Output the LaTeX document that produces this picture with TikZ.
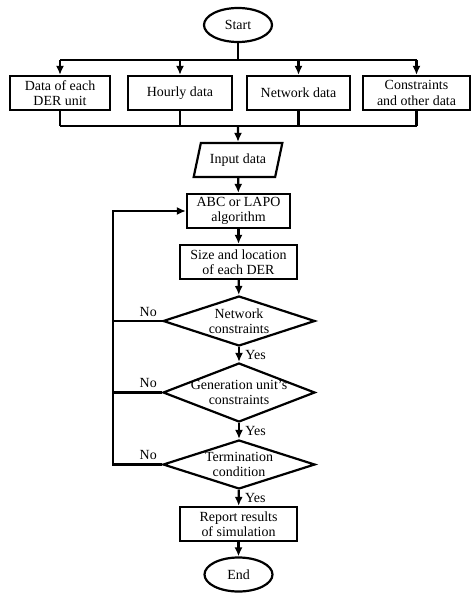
\documentclass[tikz,border=0pt]{standalone}
\usepackage{fontspec}
\setmainfont{Liberation Serif}
\usetikzlibrary{shapes.geometric,arrows.meta}

\tikzset{
  every node/.style={font=\fontsize{14}{15.5}\selectfont, align=center},
  box/.style={draw, line width=2.2bp, rectangle, minimum height=34bp, inner sep=1bp},
  term/.style={draw, line width=2.2bp, ellipse, minimum width=68bp, minimum height=34bp, inner sep=0pt},
  decision/.style={draw, line width=2.2bp, diamond, minimum width=152bp, inner sep=0pt},
  io/.style={draw, line width=2.2bp, trapezium, trapezium left angle=69, trapezium right angle=111,
    trapezium stretches=true, minimum width=89bp, minimum height=34bp, inner sep=1bp},
  line/.style={line width=2.2bp},
  arrow/.style={line width=2.2bp, -{Latex[length=9bp,width=8bp]}},
}

\begin{document}
\begin{tikzpicture}[x=1bp, y=-1bp]
    \useasboundingbox (0,0) rectangle (474,596);
    \node[term] (start) at (238,25) {Start};
    \node[box, minimum width=100bp] (der) at (60,93) {Data of each\\DER unit};
    \node[box, minimum width=104bp] (hourly) at (180,93) {Hourly data};
    \node[box, minimum width=103bp] (network) at (298.5,93) {Network data};
    \node[box, minimum width=107bp] (other) at (416.5,93) {Constraints\\and other data};
    \coordinate (split) at (238,60);
    \coordinate (merge) at (238,126);
    \node[io] (input) at (238,160) {Input data};
    \node[box, minimum width=103bp] (algo) at (238.5,211) {ABC or LAPO\\algorithm};
    \node[box, minimum width=117bp] (size) at (238.5,262) {Size and location\\of each DER};
    \node[decision, minimum height=50bp, label={[align=center]center:Network\\constraints}] (netcon) at (239,321) {};
    \node[decision, minimum height=59bp, label={[align=center]center:Generation unit's\\constraints}] (gencon) at (239,392.5) {};
    \node[decision, minimum height=49bp, label={[align=center]center:Termination\\condition}] (term) at (239,464.5) {};
    \node[box, minimum width=117bp] (report) at (238.5,524) {Report results\\of simulation};
    \node[term] (end) at (238.5,574.5) {End};
    \coordinate (loop) at (113,0);
    % top part
    \draw[line] (start) -- (split);
    \draw[line] (der |- split) -- (other |- split);
    \foreach \n in {der,hourly,network,other}
        \draw[arrow] (\n |- split) -- (\n);
    \foreach \n in {der,hourly,network,other}
        \draw[line] (\n) -- (\n |- merge);
    \draw[line] (der |- merge) -- (other |- merge);
    \draw[arrow] (merge) -- (input);
    % main chain
    \draw[arrow] (input) -- (algo);
    \draw[arrow] (algo) -- (size);
    \draw[arrow] (size) -- (netcon);
    \draw[arrow] (netcon) -- node[right, xshift=2bp] {Yes} (gencon);
    \draw[arrow] (gencon) -- node[right, xshift=2bp] {Yes} (term);
    \draw[arrow] (term) -- node[right, xshift=2bp] {Yes} (report);
    \draw[arrow] (report) -- (end);
    % feedback
    \draw[line] (netcon.west) -- node[above, pos=0.28] {No} (netcon -| loop);
    \draw[line] (gencon.west) -- node[above, pos=0.28] {No} (gencon -| loop);
    \draw[arrow] (term.west) -- node[above, pos=0.28] {No} (term -| loop) |- (algo.west);
\end{tikzpicture}
\end{document}
